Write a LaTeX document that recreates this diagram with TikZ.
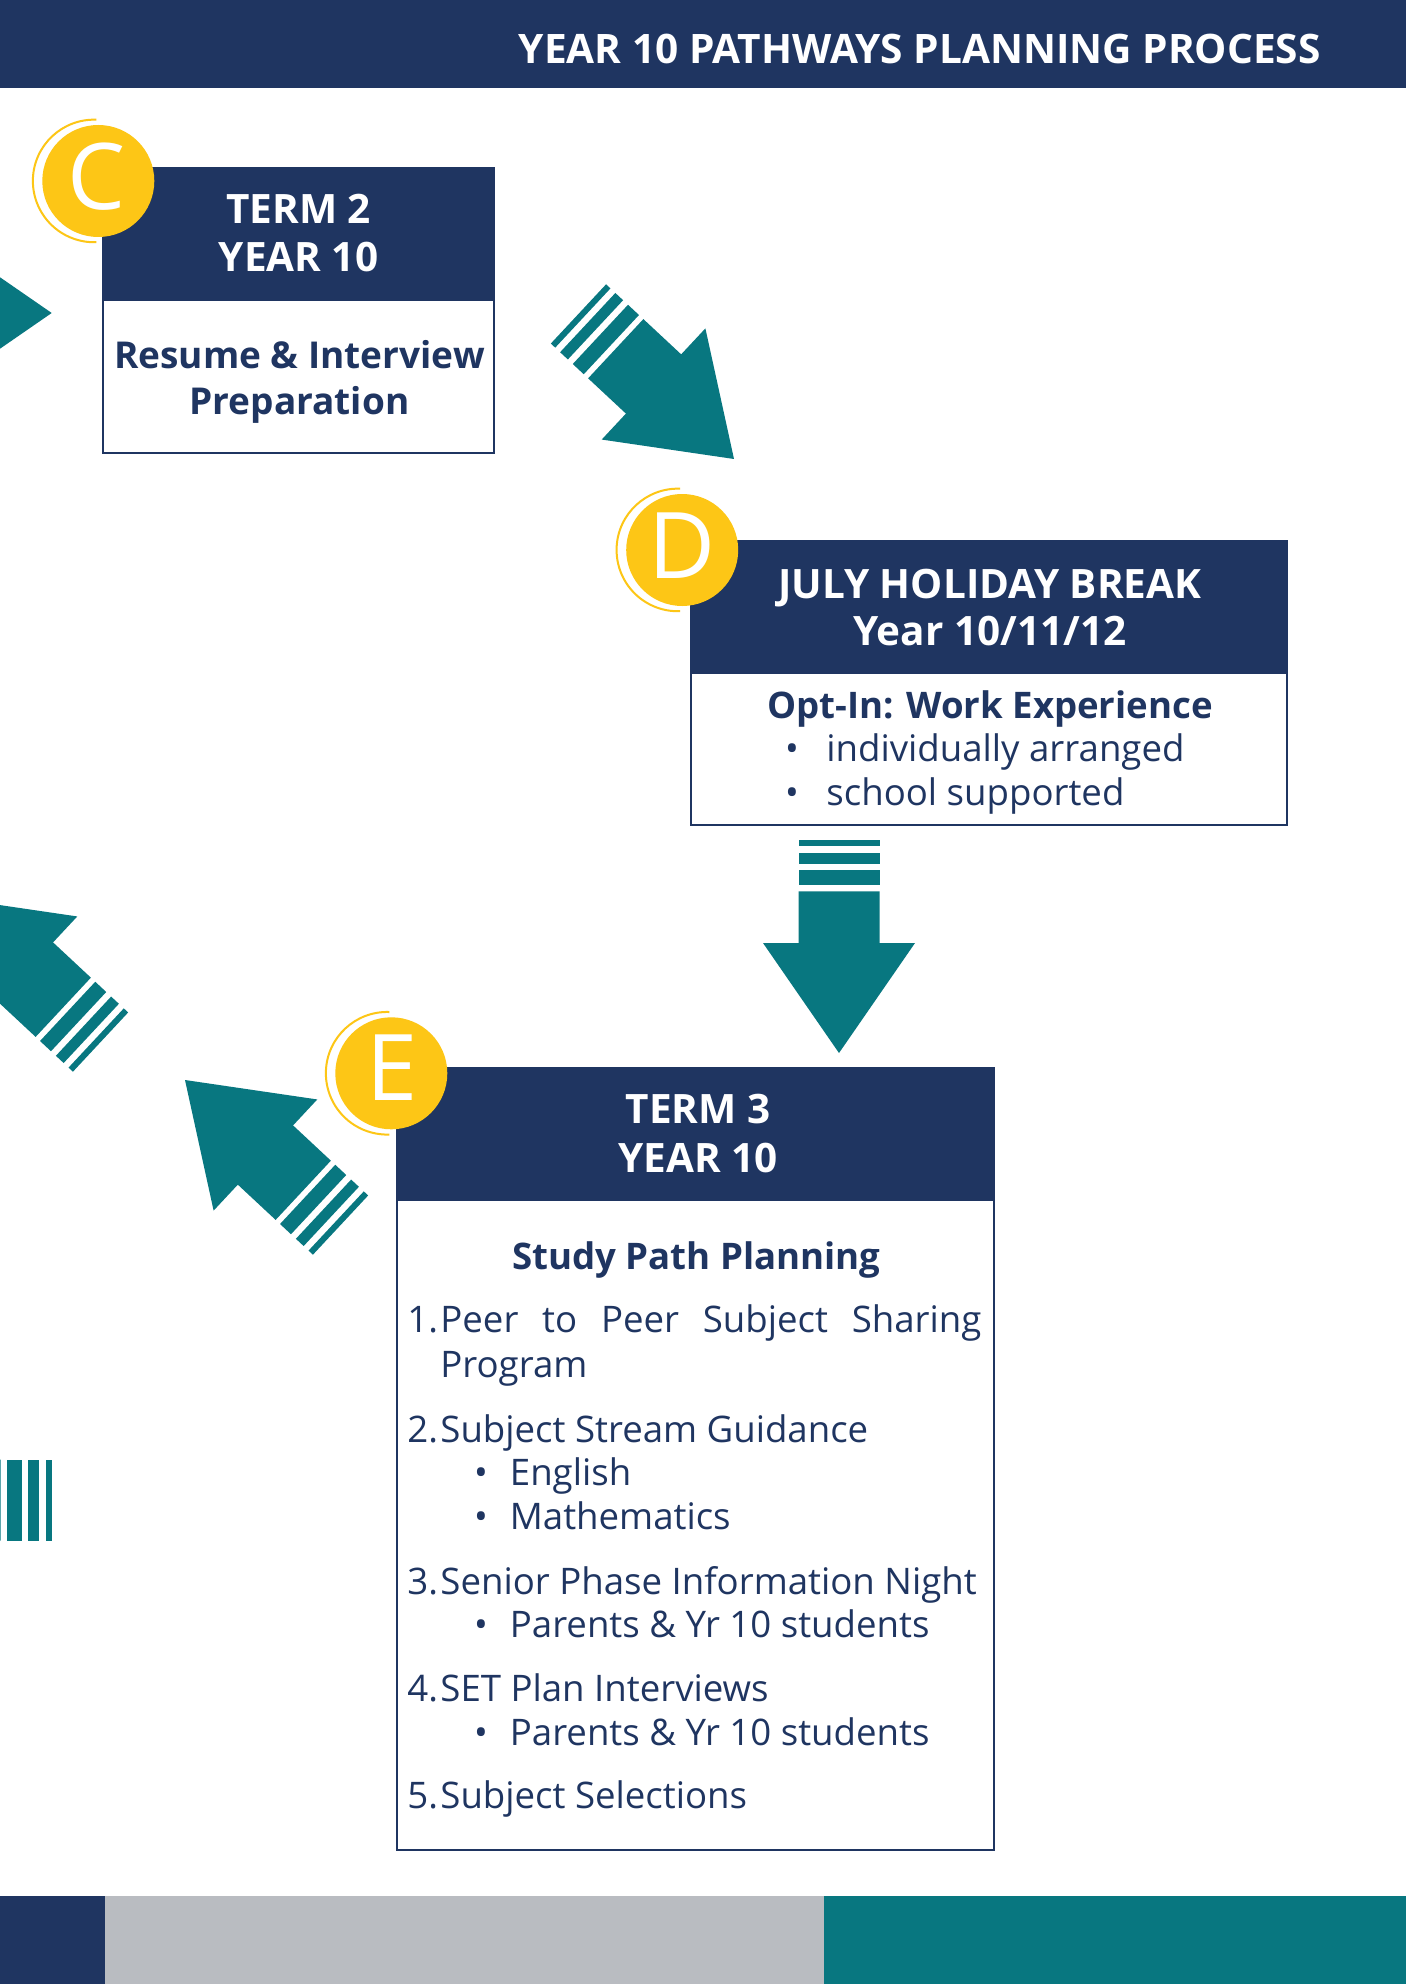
\documentclass[tikz,border=0pt]{standalone}
\usepackage{fontspec}
\setmainfont{Open Sans}
\definecolor{navy}{RGB}{31,53,97}
\definecolor{tealc}{RGB}{8,119,128}
\definecolor{gold}{RGB}{253,198,22}
\definecolor{greyc}{RGB}{185,188,193}
\tikzset{
  hdrbox/.style={rectangle, fill=navy, draw=navy, line width=1.35pt, inner sep=0pt},
  bodybox/.style={rectangle, fill=white, draw=navy, line width=1.35pt, inner sep=0pt},
  hdrtxt/.style={inner sep=0pt, anchor=base, text=white, font=\bfseries\fontsize{20.25pt}{24pt}\selectfont},
  titletxt/.style={inner sep=0pt, anchor=base east, text=white, font=\bfseries\fontsize{20.3pt}{24pt}\selectfont},
  boldtxt/.style={inner sep=0pt, anchor=base, text=navy, font=\bfseries\fontsize{18.3pt}{22pt}\selectfont},
  bodytxt/.style={inner sep=0pt, anchor=base west, text=navy, font=\fontsize{18.3pt}{22pt}\selectfont},
  bullettxt/.style={inner sep=0pt, anchor=base, text=navy, font=\fontsize{18.3pt}{22pt}\selectfont},
  badge/.style={circle, fill=gold, minimum size=56pt, inner sep=0pt},
  badgeletter/.style={inner sep=0pt, text=white, font=\fontsize{46pt}{50pt}\selectfont},
  ring/.style={draw=gold, line width=1pt},
  blockarrow/.pic={
    \fill[tealc] (0,0) -- (-110,-76) -- (-110,-40.5) -- (-161.7,-40.5)
      -- (-161.7,40.5) -- (-110,40.5) -- (-110,76) -- cycle;
    \fill[tealc] (-167.7,-40.5) rectangle (-182.7,40.5);
    \fill[tealc] (-189.4,-40.5) rectangle (-200,40.5);
    \fill[tealc] (-206.7,-40.5) rectangle (-212.7,40.5);
  }
}
\begin{document}
\begin{tikzpicture}[x=0.5pt,y=-0.5pt]
\useasboundingbox (0,0) rectangle (1406,1984);
\clip (0,0) rectangle (1406,1984);
\fill[white] (0,0) rectangle (1406,1984);

% top band
\fill[navy] (0,0) rectangle (1406,88);
\node[titletxt] (title) at (1321,63.5) {YEAR 10 PATHWAYS PLANNING PROCESS};

% bottom band
\fill[navy] (0,1896) rectangle (105,1984);
\fill[greyc] (105,1896) rectangle (824,1984);
\fill[tealc] (824,1896) rectangle (1406,1984);

% arrows
\pic[rotate=0] at (51.7,313) {blockarrow};
\pic[rotate=-43] at (734,459) {blockarrow};
\pic[rotate=-90] at (839,1053) {blockarrow};
\pic[rotate=137] at (185,1080) {blockarrow};
\pic[rotate=137] at (-55,897) {blockarrow};
\pic[rotate=180] at (-161,1500) {blockarrow};

% Box C
\node[hdrbox, minimum width=195.5pt, minimum height=66pt] (chead) at (298.5,234) {};
\node[bodybox, minimum width=195.5pt, minimum height=76.5pt] (cbody) at (298.5,376.5) {};
\node[hdrtxt] (c1) at (298.5,223.3) {TERM 2};
\node[hdrtxt] (c2) at (298.5,271.7) {YEAR 10};
\node[boldtxt, font=\bfseries\fontsize{18.5pt}{22pt}\selectfont] (c3) at (299.5,368.3) {Resume \& Interview};
\node[boldtxt, font=\bfseries\fontsize{18.5pt}{22pt}\selectfont] (c4) at (299.5,415) {Preparation};

% Box D
\node[hdrbox, minimum width=298pt, minimum height=65.75pt] (dhead) at (989,607.25) {};
\node[bodybox, minimum width=298pt, minimum height=76pt] (dbody) at (989,749) {};
\node[hdrtxt] (d1) at (990,598.3) {JULY HOLIDAY BREAK};
\node[hdrtxt] (d2) at (990,645) {Year 10/11/12};
\node[boldtxt] (d3) at (990,718.3) {Opt-In: Work Experience};
\node[bullettxt] (db1) at (792,761.5) {•};
\node[bodytxt] (d4) at (826,761.5) {individually arranged};
\node[bullettxt] (db2) at (792,805) {•};
\node[bodytxt] (d5) at (826,805) {school supported};

% Box E
\node[hdrbox, minimum width=298.5pt, minimum height=65.75pt] (ehead) at (695.5,1134.25) {};
\node[bodybox, minimum width=298.5pt, minimum height=325pt] (ebody) at (695.5,1525) {};
\node[hdrtxt] (e1) at (698,1123) {TERM 3};
\node[hdrtxt] (e2) at (698,1172) {YEAR 10};
\node[boldtxt] (e3) at (696.5,1269.7) {Study Path Planning};
\node[bodytxt] (n1) at (407,1332) {1.};
\node[bodytxt] (t1) at (440,1332) {\makebox[270.5pt][s]{Peer to Peer Subject Sharing}};
\node[bodytxt] (t1b) at (440,1377) {Program};
\node[bodytxt] (n2) at (407,1442) {2.};
\node[bodytxt] (t2) at (440,1442) {Subject Stream Guidance};
\node[bullettxt] (b21) at (481,1485.6) {•};
\node[bodytxt] (t21) at (509.5,1485.6) {English};
\node[bullettxt] (b22) at (481,1529) {•};
\node[bodytxt] (t22) at (509.5,1529) {Mathematics};
\node[bodytxt] (n3) at (407,1594) {3.};
\node[bodytxt] (t3) at (440,1594) {Senior Phase Information Night};
\node[bullettxt] (b31) at (481,1637) {•};
\node[bodytxt] (t31) at (509.5,1637) {Parents \& Yr 10 students};
\node[bodytxt] (n4) at (407,1701) {4.};
\node[bodytxt] (t4) at (440,1701) {SET Plan Interviews};
\node[bullettxt] (b41) at (481,1745.6) {•};
\node[bodytxt] (t41) at (509.5,1745.6) {Parents \& Yr 10 students};
\node[bodytxt] (n5) at (407,1808.4) {5.};
\node[bodytxt] (t5) at (440,1808.4) {Subject Selections};

% badges
\draw[ring] (96.3,119.7) arc[start angle=-88, end angle=-272, radius=61.3];
\node[badge] (cc) at (98.3,181) {};
\node[badgeletter] (cl) at (97,177) {C};

\draw[ring] (680,488.7) arc[start angle=-88, end angle=-272, radius=61.3];
\node[badge] (dc) at (682.2,550) {};
\node[badgeletter] (dl) at (682.5,546) {D};

\draw[ring] (389.3,1012) arc[start angle=-88, end angle=-272, radius=61.3];
\node[badge] (ec) at (391.3,1073.3) {};
\node[badgeletter] (el) at (391.7,1067.5) {E};
\end{tikzpicture}
\end{document}
